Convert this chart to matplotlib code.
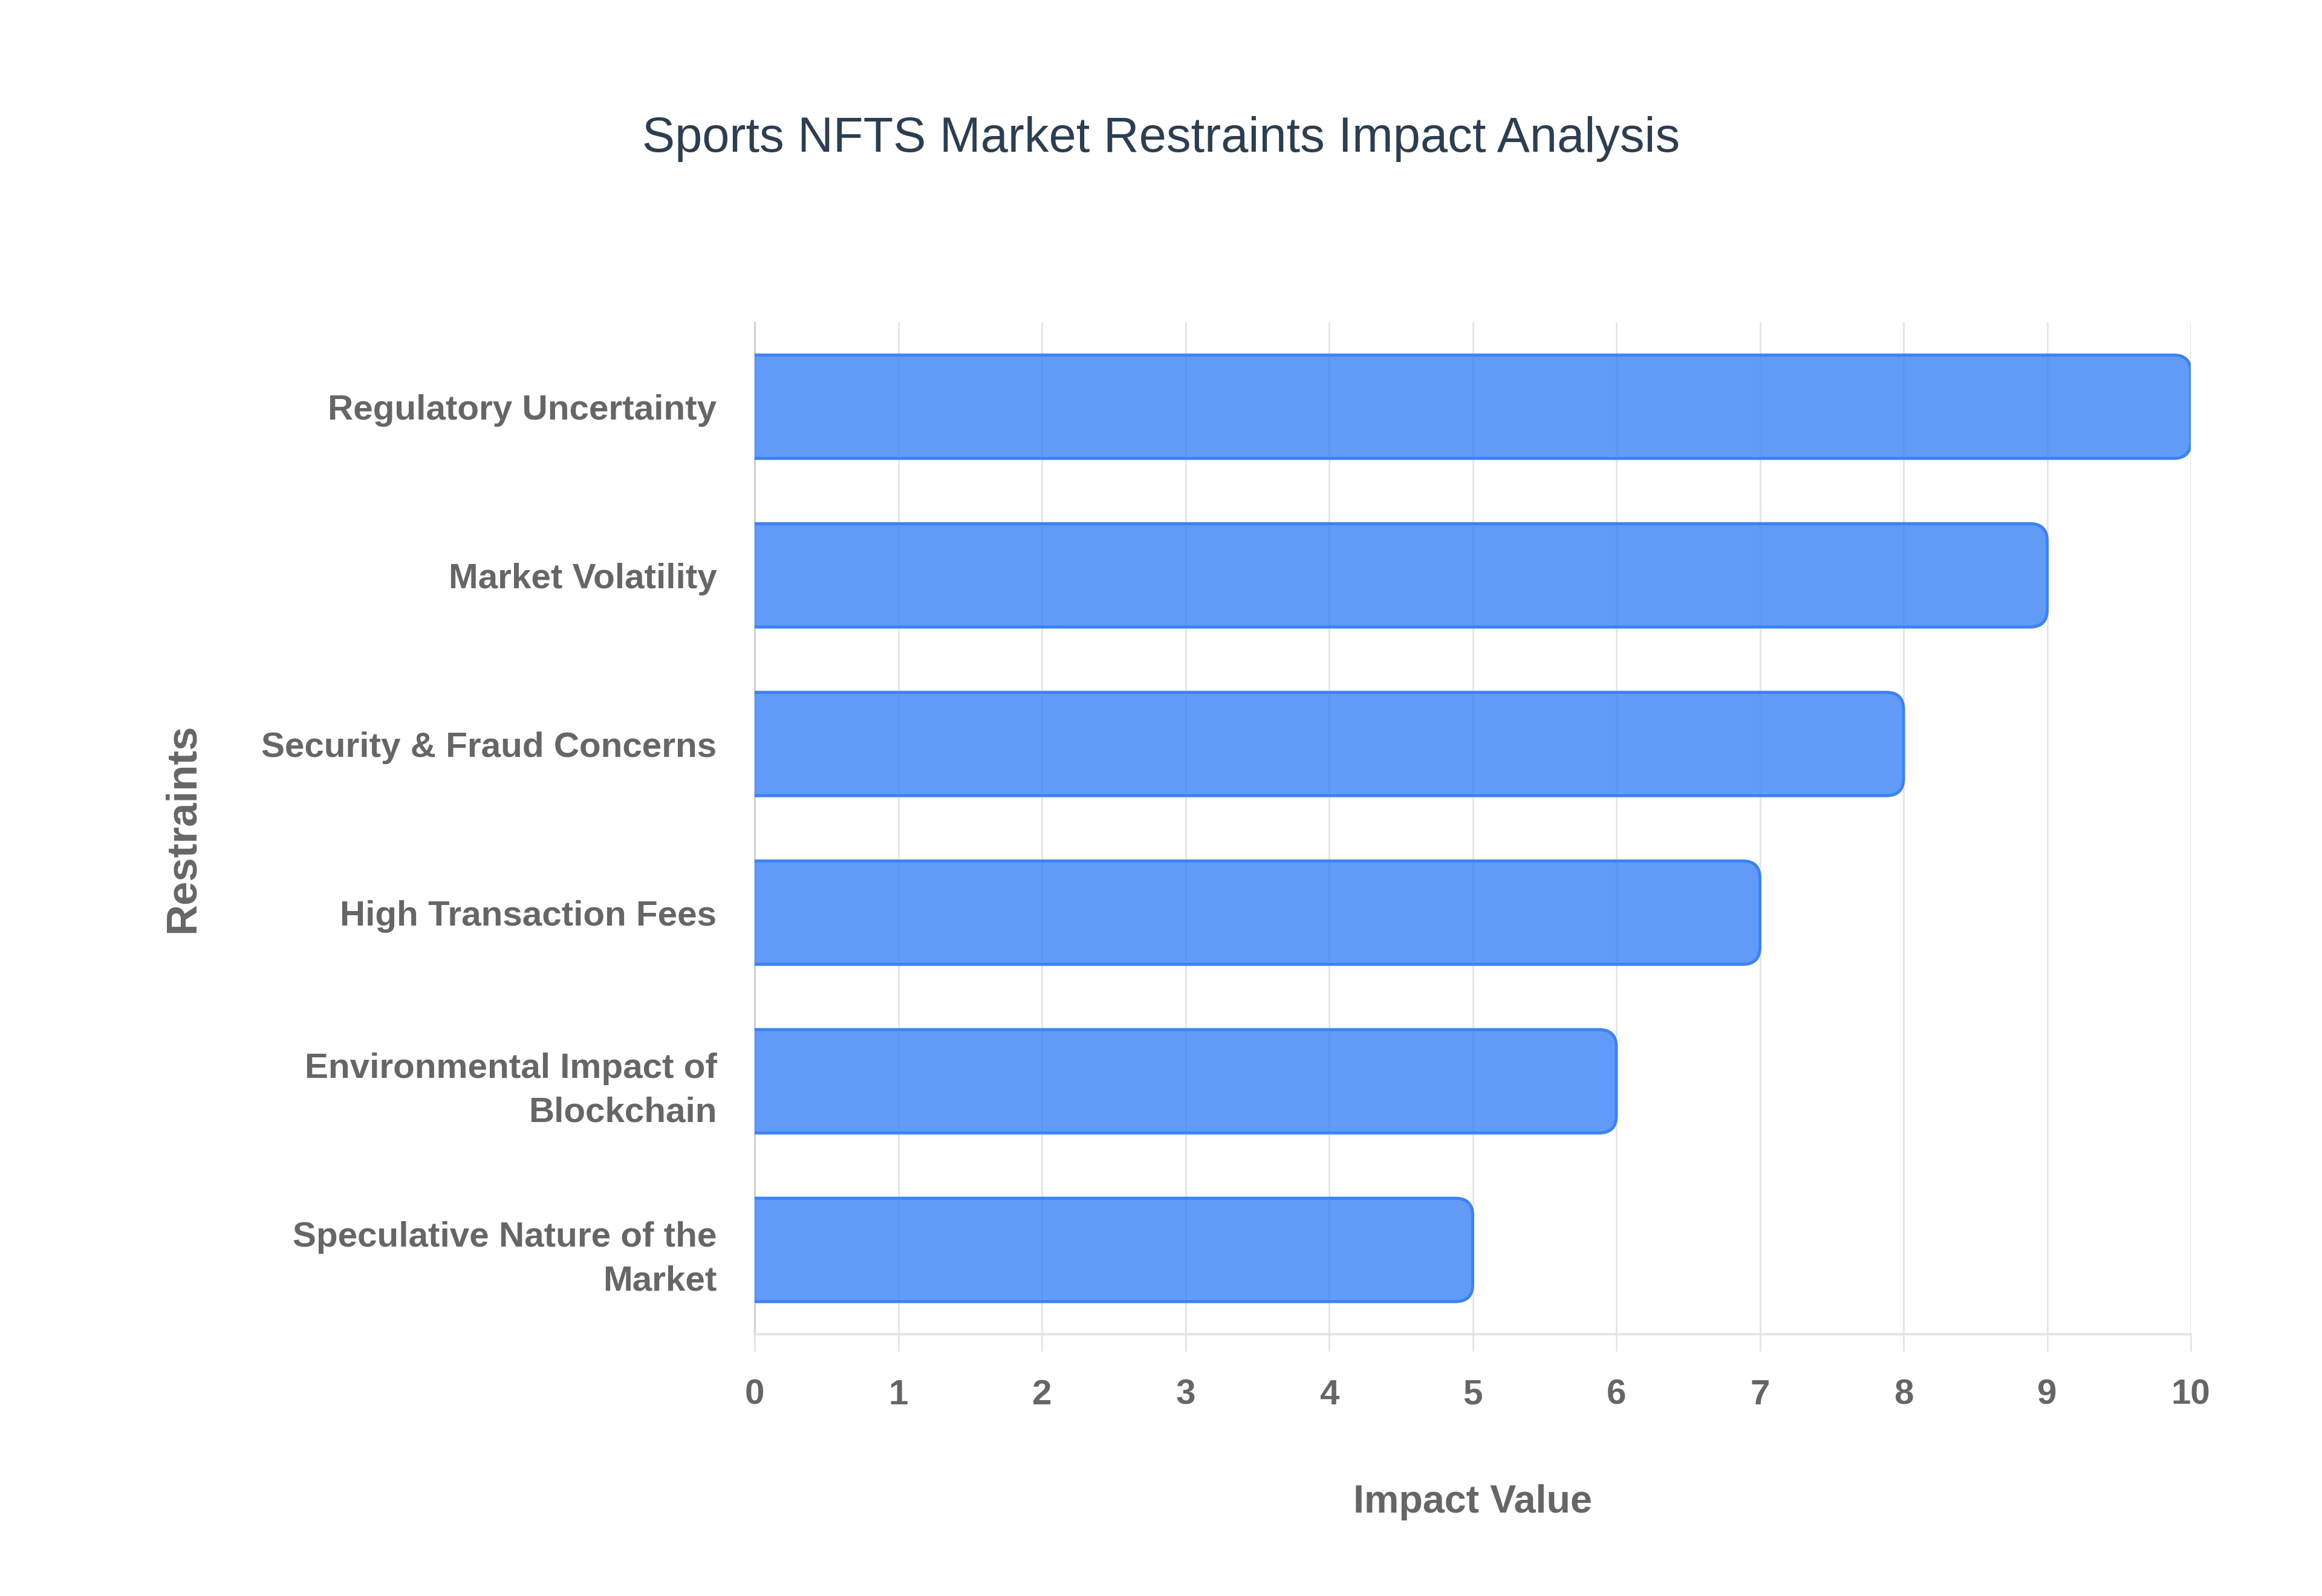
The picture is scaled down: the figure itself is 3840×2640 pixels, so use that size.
import numpy as np
import matplotlib.pyplot as plt
from matplotlib.patches import FancyBboxPatch

# Data
restraints = [
    'Regulatory Uncertainty',
    'Market Volatility',
    'Security & Fraud Concerns',
    'High Transaction Fees',
    'Environmental Impact of\nBlockchain',
    'Speculative Nature of the\nMarket',
]
impact = [10, 9, 8, 7, 6, 5]
x_ticks = [0, 1, 2, 3, 4, 5, 6, 7, 8, 9, 10]

bar_color = '#3B82F6'
text_grey = '#666666'
grid_grey = '#e5e5e5'

plt.rcParams['font.family'] = ['Liberation Sans', 'DejaVu Sans']

fig = plt.figure(figsize=(12.8, 8.8), dpi=300)
ax = fig.add_axes([0.325, 0.164, 0.6185, 0.634])

ax.set_xlim(0, 10)
ax.set_ylim(len(restraints) - 0.5, -0.5)

# bars with rounded right end (left end hidden behind the axis by clipping)
bar_h = 0.613
round_r = 0.12
aspect = (1 / 279) / (1 / 237.5)
for i, v in enumerate(impact):
    start = -0.5
    box = FancyBboxPatch((start, i - bar_h / 2), v - start, bar_h,
                         boxstyle=f'round,pad=0,rounding_size={round_r}',
                         mutation_aspect=aspect,
                         facecolor=bar_color, alpha=0.8, edgecolor='none',
                         zorder=3)
    ax.add_patch(box)
    edge = FancyBboxPatch((start, i - bar_h / 2), v - start, bar_h,
                          boxstyle=f'round,pad=0,rounding_size={round_r}',
                          mutation_aspect=aspect,
                          facecolor='none', edgecolor=bar_color, linewidth=1.2,
                          zorder=4)
    ax.add_patch(edge)

ax.set_xticks(x_ticks)
ax.set_xticklabels([str(t) for t in x_ticks])
ax.set_yticks(range(len(restraints)))
ax.set_yticklabels(restraints)

ax.grid(axis='x', color=grid_grey, linewidth=0.7, zorder=0)
ax.set_axisbelow(True)

for s in ['top', 'right']:
    ax.spines[s].set_visible(False)
ax.spines['bottom'].set_color(grid_grey)
ax.spines['bottom'].set_linewidth(1.0)
ax.spines['left'].set_color('#d5d5d5')
ax.spines['left'].set_linewidth(0.8)

ax.tick_params(axis='x', length=6.7, width=0.7, color=grid_grey, pad=11,
               labelsize=14, labelcolor=text_grey)
ax.tick_params(axis='y', length=0, pad=15, labelsize=14, labelcolor=text_grey)
for lab in ax.get_xticklabels():
    lab.set_fontweight('bold')
for lab in ax.get_yticklabels():
    lab.set_fontweight('bold')
    lab.set_linespacing(1.45)
    lab.set_multialignment('right')

ax.set_xlabel('Impact Value', fontsize=15.5, fontweight='bold', color=text_grey)
ax.xaxis.set_label_coords(0.5, -0.148)
ax.set_ylabel('Restraints', fontsize=17, fontweight='bold', color=text_grey)
ax.yaxis.set_label_coords(-0.384, 0.5)

fig.text(0.5, 0.913, 'Sports NFTS Market Restraints Impact Analysis',
         ha='center', va='center', fontsize=19.5, color='#2c3e50')

fig.savefig('out.png', dpi=300, facecolor='white')
